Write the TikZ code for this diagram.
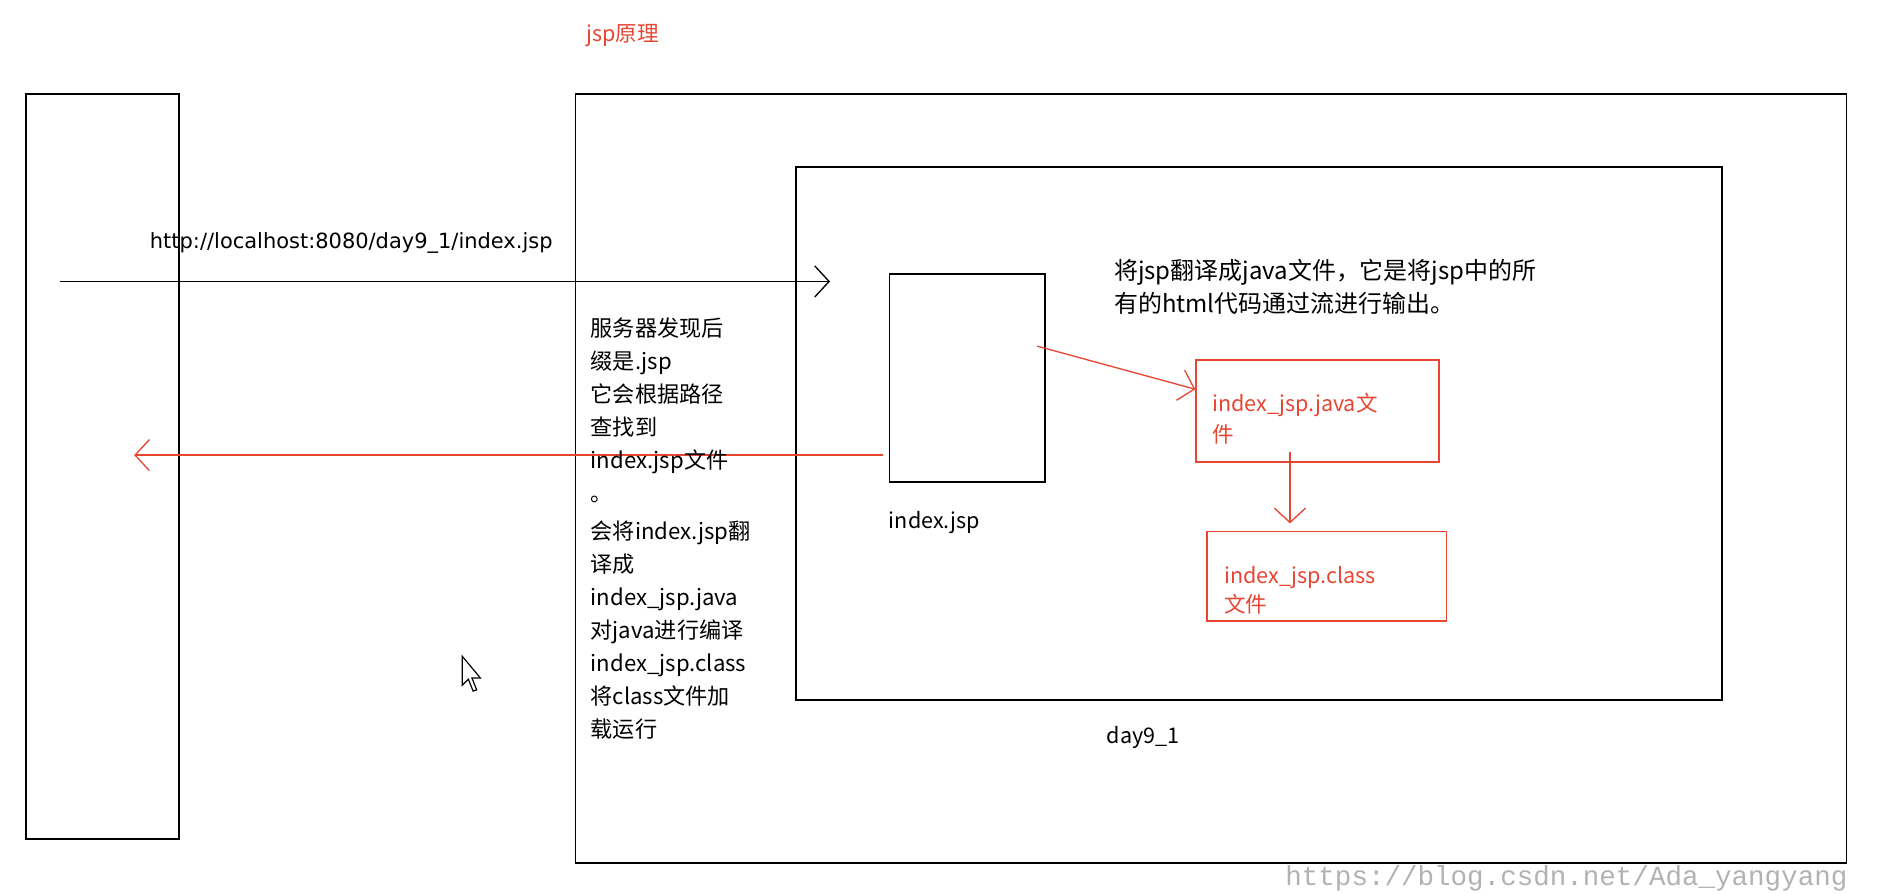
\documentclass[tikz,border=0pt]{standalone}
\usepackage{fontspec}
\setmainfont{Noto Sans CJK SC}
\newfontfamily\wmfont{Liberation Mono}
\newfontfamily\urlfont{DejaVu Sans}
\usetikzlibrary{arrows.meta}
\definecolor{jred}{RGB}{230,70,50}
\tikzset{
  box/.style={draw=black,line width=1.2pt},
  rbox/.style={draw=jred,line width=1.2pt},
  arr/.style={line width=1.1pt,-{Straight Barb[length=12pt,width=26pt]}},
  txt/.style={anchor=west,inner sep=0pt,font=\fontsize{18}{20}\selectfont},
  lines/.style={anchor=north west,inner sep=0pt,align=left,font=\fontsize{18.5}{27.5}\selectfont}
}
\begin{document}
\begin{tikzpicture}[x=1pt,y=-1pt]
\useasboundingbox (0,0) rectangle (1568,746);
\node[anchor=center,inner sep=0pt,text=jred,font=\fontsize{18}{20}\selectfont] (title) at (520,30) {jsp原理};
\node[box,minimum width=128pt,minimum height=622pt,anchor=north west,inner sep=0pt] (client) at (21,78) {};
\node[box,minimum width=1061pt,minimum height=642pt,anchor=north west,inner sep=0pt] (server) at (480,78) {};
\node[box,minimum width=773pt,minimum height=445pt,anchor=north west,inner sep=0pt] (app) at (664,139) {};
\node[box,minimum width=130pt,minimum height=174pt,anchor=north west,inner sep=0pt] (jsp) at (742,228) {};
\node[txt] (jsplbl) at (742,436) {index.jsp};
\node[txt,font=\urlfont\fontsize{17.5}{20}\selectfont] (url) at (125,203) {http://localhost:8080/day9\_1/index.jsp};
\coordinate (s1) at (50,235);
\coordinate (e1) at (693,235);
\draw[arr] (s1) -- (e1);
\coordinate (s2) at (737,380);
\coordinate (e2) at (112,380);
\draw[arr,draw=jred] (s2) -- (e2);
\node[lines] (steps) at (493,265) {服务器发现后\\缀是.jsp\\它会根据路径\\查找到\\index.jsp文件\\。\\[5pt]会将index.jsp翻\\译成\\index\_jsp.java\\对java进行编译\\index\_jsp.class\\将class文件加\\载运行};
\node[lines,font=\fontsize{20}{28}\selectfont] (desc) at (930,216) {将jsp翻译成java文件，它是将jsp中的所\\有的html代码通过流进行输出。};
\node[rbox,minimum width=203pt,minimum height=85pt,anchor=north west,inner sep=0pt] (java) at (998,300) {};
\node[lines,text=jred,font=\fontsize{18}{26}\selectfont] (javalbl) at (1012,328) {index\_jsp.java文\\件};
\node[rbox,minimum width=200pt,minimum height=75pt,anchor=north west,inner sep=0pt] (cls) at (1007,443) {};
\node[lines,text=jred,font=\fontsize{18}{24}\selectfont] (clslbl) at (1022,473) {index\_jsp.class\\文件};
\coordinate (s3) at (866,289);
\draw[arr,draw=jred] (s3) -- (java.west|-0,325);
\coordinate (s4) at (1077,377);
\coordinate (e4) at (1077,437);
\draw[arr,draw=jred] (s4) -- (e4);
\node[txt] (day) at (924,616) {day9\_1};
\draw[line width=1pt,fill=white] (386,548) -- (386,572) -- (391,567) -- (395,577) -- (398,576) -- (394,566) -- (401,566) -- cycle;
\node[anchor=west,inner sep=0pt,text=black!30,font=\wmfont\fontsize{23}{23}\selectfont] (wm) at (1073,733) {https://blog.csdn.net/Ada\_yangyang};
\end{tikzpicture}
\end{document}
